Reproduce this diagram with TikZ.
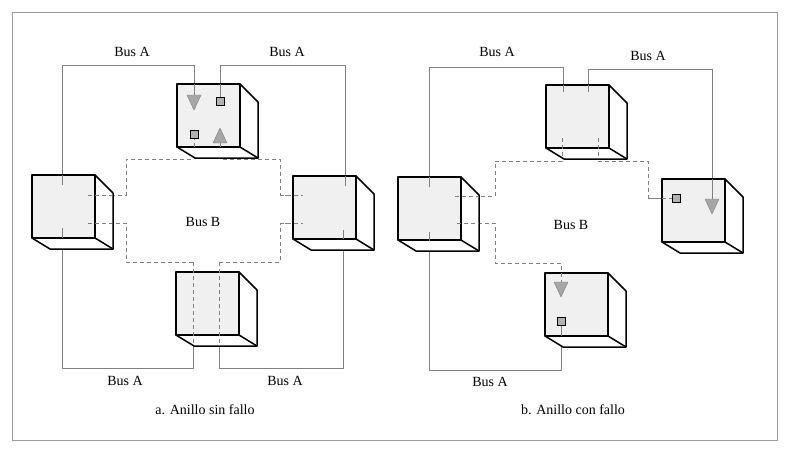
\documentclass[tikz,border=0pt]{standalone}
\usepackage{fontspec}
\setmainfont{Liberation Serif}
\begin{document}
\begin{tikzpicture}[x=1pt,y=-1pt,
  bus/.style={draw=gray,line width=0.8pt},
  busd/.style={draw=gray,line width=0.8pt,dash pattern=on 4pt off 3pt},
  edge/.style={draw=black,line width=1.5pt,line join=round},
  lbl/.style={font=\fontsize{14}{16}\selectfont}]
\newcommand\mycube[2]{%
  \filldraw[edge,fill=white] (#1+63,#2)--(#1+81,#2+18)--(#1+81,#2+74)--(#1+18,#2+74)--(#1,#2+63)--cycle;
  \draw[edge] (#1+63,#2+63)--(#1+81,#2+74);
  \filldraw[edge,fill=gray!12] (#1,#2) rectangle (#1+63,#2+63);}
\newcommand\dtri[2]{\filldraw[fill=gray!70,draw=gray] (#1-7,#2-8)--(#1+7,#2-8)--(#1,#2+7)--cycle;}
\newcommand\utri[2]{\filldraw[fill=gray!70,draw=gray] (#1-7,#2+8)--(#1+7,#2+8)--(#1,#2-7)--cycle;}
\newcommand\sqm[2]{\filldraw[fill=gray!60,draw=black,line width=0.9pt] (#1-4,#2-4) rectangle (#1+4,#2+4);}
\useasboundingbox (0,0) rectangle (788,453);
\draw[line width=0.8pt,draw=gray!80] (12,12) rectangle (777,440);
% ---------- panel a ----------
\draw[bus] (62,185)--(62,65)--(194,65)--(194,96);
\draw[bus] (220,101)--(220,65)--(345,65)--(345,186);
\draw[bus] (62,228)--(62,368)--(193,368)--(193,334);
\draw[bus] (219,334)--(219,368)--(343,368)--(343,230);
\draw[busd] (194,134)--(194,159)--(126,159)--(126,195)--(88,195);
\draw[busd] (88,223)--(126,223)--(126,262)--(193,262);
\draw[busd] (220,141)--(220,159)--(280,159)--(280,195)--(303,195);
\draw[busd] (303,223)--(280,223)--(280,262)--(219,262);
\mycube{177}{84}\mycube{32}{175}\mycube{293}{176}\mycube{176}{272}
\draw[bus] (194,84)--(194,96) (220,84)--(220,97);
\draw[bus] (62,175)--(62,185) (62,238)--(62,228) (345,176)--(345,186) (343,239)--(343,230);
\draw[busd] (194,147)--(194,138) (220,147)--(220,141);
\draw[busd] (88,195)--(112,195) (88,223)--(112,223) (280,195)--(303,195) (280,223)--(303,223);
\draw[busd] (193,262)--(193,346) (219,262)--(219,346);
\dtri{194}{103}\sqm{220}{101}\sqm{194}{134}\utri{220}{135}
\node[lbl] at (132,52) {Bus A};
\node[lbl] at (287,52) {Bus A};
\node[lbl] at (125,381) {Bus A};
\node[lbl] at (285,381) {Bus A};
\node[lbl] at (203,222) {Bus B};
\node[lbl] at (205,410) {a. Anillo sin fallo};
% ---------- panel b ----------
\draw[bus] (429,187)--(429,67)--(563,67)--(563,92);
\draw[bus] (588,92)--(588,69)--(712,69)--(712,200);
\draw[bus] (429,232)--(429,370)--(561,370)--(561,325);
\draw[busd] (562,140)--(562,161)--(495,161)--(495,196)--(455,196);
\draw[busd] (457,223)--(495,223)--(495,263)--(561,263)--(561,283);
\draw[busd] (598,140)--(598,161)--(648,161)--(648,198)--(672,198);
\mycube{546}{85}\mycube{398}{177}\mycube{662}{179}\mycube{545}{273}
\draw[bus] (563,85)--(563,92) (588,85)--(588,92) (429,177)--(429,187) (429,241)--(429,232) (712,179)--(712,200) (561,336)--(561,325);
\draw[busd] (562,138)--(562,158) (598,138)--(598,158) (455,196)--(479,196) (457,223)--(479,223) (648,198)--(672,198) (561,273)--(561,283);
\dtri{712}{207}\sqm{676}{198}\dtri{561}{290}\sqm{561}{321}
\node[lbl] at (497,52) {Bus A};
\node[lbl] at (648,56) {Bus A};
\node[lbl] at (490,382) {Bus A};
\node[lbl] at (571,225) {Bus B};
\node[lbl] at (573,410) {b. Anillo con fallo};
\end{tikzpicture}
\end{document}
